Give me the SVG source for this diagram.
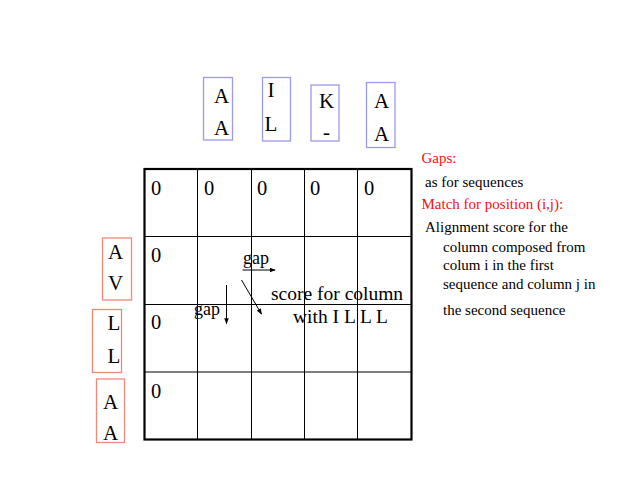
<svg xmlns="http://www.w3.org/2000/svg" width="638" height="493" viewBox="0 0 638 493">
<style>
text{font-family:"Liberation Serif","Times New Roman",serif;fill:#000}
.l{font-size:21px;text-anchor:middle}
.z{font-size:20.5px}
.s{font-size:18px}
.c{font-size:19.5px}
.r{font-size:15px}
.red{fill:#ee1111}
.bb{fill:none;stroke:#9a9aee;stroke-width:1.3}
.rb{fill:none;stroke:#f08878;stroke-width:1.3}
.g{stroke:#000;stroke-width:1}
.a{stroke:#000;stroke-width:1;fill:none;marker-end:url(#ah)}
</style>
<defs>
<marker id="ah" viewBox="0 0 8 8" refX="7" refY="4" markerWidth="6" markerHeight="6" orient="auto" markerUnits="userSpaceOnUse">
<path d="M0,1 L8,4 L0,7 z" fill="#000"/>
</marker>
</defs>
<rect width="638" height="493" fill="#fff"/>
<g id="top1"><rect class="bb" x="203.5" y="77.5" width="29" height="62.5"/><text class="l" x="221.5" y="103">A</text><text class="l" x="221.5" y="135">A</text></g>
<g id="top2"><rect class="bb" x="262.5" y="77.5" width="28" height="63.5"/><text class="l" x="271" y="97">I</text><text class="l" x="271" y="131">L</text></g>
<g id="top3"><rect class="bb" x="311" y="85" width="28" height="56"/><text class="l" x="326.5" y="108">K</text><text class="l" x="326.5" y="139">-</text></g>
<g id="top4"><rect class="bb" x="366.5" y="82.5" width="28.5" height="65"/><text class="l" x="381.5" y="108">A</text><text class="l" x="381.5" y="141">A</text></g>
<g id="left1"><rect class="rb" x="102.5" y="238" width="29" height="62"/><text class="l" x="115.5" y="258.5">A</text><text class="l" x="115.5" y="290">V</text></g>
<g id="left2"><rect class="rb" x="92.5" y="309.5" width="29" height="63"/><text class="l" x="114" y="330">L</text><text class="l" x="114" y="362.5">L</text></g>
<g id="left3"><rect class="rb" x="96.5" y="379" width="28" height="63.5"/><text class="l" x="110.5" y="408.5">A</text><text class="l" x="110.5" y="439.5">A</text></g>
<g id="grid">
<rect x="144.5" y="169" width="267" height="270.5" fill="none" stroke="#000" stroke-width="2.2"/>
<line class="g" x1="197.5" y1="169" x2="197.5" y2="439.5"/>
<line class="g" x1="251.5" y1="169" x2="251.5" y2="439.5"/>
<line class="g" x1="304.5" y1="169" x2="304.5" y2="439.5"/>
<line class="g" x1="357.5" y1="169" x2="357.5" y2="439.5"/>
<line class="g" x1="144.5" y1="236.5" x2="411.5" y2="236.5"/>
<line class="g" x1="144.5" y1="304.5" x2="411.5" y2="304.5"/>
<line class="g" x1="144.5" y1="372" x2="411.5" y2="372"/>
<text class="z" x="151" y="195">0</text><text class="z" x="204" y="195">0</text><text class="z" x="257" y="195">0</text><text class="z" x="310" y="195">0</text><text class="z" x="364" y="195">0</text>
<text class="z" x="151" y="262">0</text><text class="z" x="151" y="328.5">0</text><text class="z" x="151" y="397.5">0</text>
</g>
<g id="connectors">
<line class="a" x1="242.5" y1="270" x2="275" y2="270"/>
<line class="a" x1="226.5" y1="285" x2="226.5" y2="323.5"/>
<line class="a" x1="241.5" y1="280" x2="261.5" y2="314"/>
</g>
<g id="labels">
<text class="s" x="243" y="264">gap</text>
<text class="s" x="194" y="315">gap</text>
<text class="c" x="271" y="300">score for column</text>
<text class="c" x="293" y="322.5">with I L L L</text>
</g>
<g id="notes">
<text class="r red" x="421.5" y="163">Gaps:</text>
<text class="r" x="425" y="187">as for sequences</text>
<text class="r red" x="421.5" y="208.5">Match for position (i,j):</text>
<text class="r" x="425" y="232">Alignment score for the</text>
<text class="r" x="443" y="252">column composed from</text>
<text class="r" x="443" y="270">colum i in the first</text>
<text class="r" x="443" y="288.5">sequence and column j in</text>
<text class="r" x="443" y="315">the second sequence</text>
</g>
</svg>
